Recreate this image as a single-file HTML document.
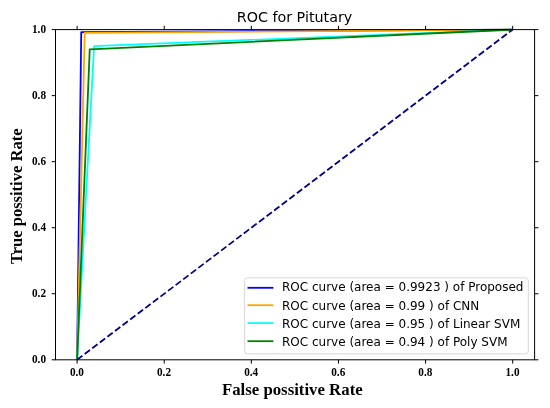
<!DOCTYPE html>
<html><head><meta charset="utf-8"><title>ROC for Pitutary</title>
<style>html,body{margin:0;padding:0;background:#fff;overflow:hidden}svg{display:block}.t{font-family:"Liberation Serif","DejaVu Serif",serif;font-weight:bold;font-size:12.7px;fill:#000}.al{font-family:"Liberation Serif","DejaVu Serif",serif;font-weight:bold;font-size:16.8px;fill:#000}.lg{font-family:"DejaVu Sans","Liberation Sans",sans-serif;font-size:12px;fill:#000}.ti{font-family:"DejaVu Sans","Liberation Sans",sans-serif;font-size:14.3px;fill:#000}</style></head><body>
<svg width="550" height="408" viewBox="0 0 550 408">
<rect x="0" y="0" width="550" height="408" fill="#ffffff"/>
<g fill="none" stroke-width="1.8" stroke-linejoin="round" stroke-linecap="butt">
<polyline stroke="#0000ff" points="77.10,359.80 81.24,32.14 512.70,29.60"/>
<polyline stroke="#ffa500" points="77.10,359.80 84.72,32.90 512.70,29.60"/>
<polyline stroke="#00ffff" points="77.10,359.80 94.09,46.11 512.70,29.60"/>
<polyline stroke="#008000" points="77.10,359.80 89.73,49.41 512.70,29.60"/>
<line stroke="#00008b" stroke-dasharray="6.64 2.87" stroke-linecap="butt" x1="77.10" y1="359.80" x2="512.70" y2="29.60"/>
</g>
<rect x="55.5" y="29.6" width="479.1" height="330.2" fill="none" stroke="#000" stroke-width="1"/>
<g stroke="#000" stroke-width="1">
<line x1="77.10" y1="359.8" x2="77.10" y2="363.6"/>
<line x1="77.10" y1="29.6" x2="77.10" y2="25.8"/>
<line x1="55.5" y1="359.80" x2="51.7" y2="359.80"/>
<line x1="534.6" y1="359.80" x2="538.4" y2="359.80"/>
<line x1="164.22" y1="359.8" x2="164.22" y2="363.6"/>
<line x1="164.22" y1="29.6" x2="164.22" y2="25.8"/>
<line x1="55.5" y1="293.76" x2="51.7" y2="293.76"/>
<line x1="534.6" y1="293.76" x2="538.4" y2="293.76"/>
<line x1="251.34" y1="359.8" x2="251.34" y2="363.6"/>
<line x1="251.34" y1="29.6" x2="251.34" y2="25.8"/>
<line x1="55.5" y1="227.72" x2="51.7" y2="227.72"/>
<line x1="534.6" y1="227.72" x2="538.4" y2="227.72"/>
<line x1="338.46" y1="359.8" x2="338.46" y2="363.6"/>
<line x1="338.46" y1="29.6" x2="338.46" y2="25.8"/>
<line x1="55.5" y1="161.68" x2="51.7" y2="161.68"/>
<line x1="534.6" y1="161.68" x2="538.4" y2="161.68"/>
<line x1="425.58" y1="359.8" x2="425.58" y2="363.6"/>
<line x1="425.58" y1="29.6" x2="425.58" y2="25.8"/>
<line x1="55.5" y1="95.64" x2="51.7" y2="95.64"/>
<line x1="534.6" y1="95.64" x2="538.4" y2="95.64"/>
<line x1="512.70" y1="359.8" x2="512.70" y2="363.6"/>
<line x1="512.70" y1="29.6" x2="512.70" y2="25.8"/>
<line x1="55.5" y1="29.60" x2="51.7" y2="29.60"/>
<line x1="534.6" y1="29.60" x2="538.4" y2="29.60"/>
</g>
<text class="t" text-anchor="middle" transform="translate(76.90,375.6) scale(0.885,1)">0.0</text>
<text class="t" text-anchor="end" transform="translate(46.0,363.45) scale(0.885,1)">0.0</text>
<text class="t" text-anchor="middle" transform="translate(164.02,375.6) scale(0.885,1)">0.2</text>
<text class="t" text-anchor="end" transform="translate(46.0,297.41) scale(0.885,1)">0.2</text>
<text class="t" text-anchor="middle" transform="translate(251.14,375.6) scale(0.885,1)">0.4</text>
<text class="t" text-anchor="end" transform="translate(46.0,231.37) scale(0.885,1)">0.4</text>
<text class="t" text-anchor="middle" transform="translate(338.26,375.6) scale(0.885,1)">0.6</text>
<text class="t" text-anchor="end" transform="translate(46.0,165.33) scale(0.885,1)">0.6</text>
<text class="t" text-anchor="middle" transform="translate(425.38,375.6) scale(0.885,1)">0.8</text>
<text class="t" text-anchor="end" transform="translate(46.0,99.29) scale(0.885,1)">0.8</text>
<text class="t" text-anchor="middle" transform="translate(512.50,375.6) scale(0.885,1)">1.0</text>
<text class="t" text-anchor="end" transform="translate(46.0,33.25) scale(0.885,1)">1.0</text>
<text class="al" text-anchor="middle" x="292.3" y="394.9">False possitive Rate</text>
<text class="al" text-anchor="middle" style="font-size:16.55px" transform="translate(22.1,196.3) rotate(-90) scale(1,0.95)">True possitive Rate</text>
<text class="ti" text-anchor="middle" x="294.5" y="21.7">ROC for Pitutary</text>
<rect x="244.6" y="277.9" width="283.7" height="75.9" rx="2.8" ry="2.8" fill="#ffffff" fill-opacity="0.8" stroke="#cccccc" stroke-opacity="0.8" stroke-width="1"/>
<line x1="247.5" y1="287.8" x2="273.4" y2="287.8" stroke="#0000ff" stroke-width="1.8"/>
<text class="lg" x="282.0" y="290.9">ROC curve (area = 0.9923 ) of Proposed</text>
<line x1="247.5" y1="305.2" x2="273.4" y2="305.2" stroke="#ffa500" stroke-width="1.8"/>
<text class="lg" x="282.0" y="309.8">ROC curve (area = 0.99 ) of CNN</text>
<line x1="247.5" y1="323.1" x2="273.4" y2="323.1" stroke="#00ffff" stroke-width="1.8"/>
<text class="lg" x="282.0" y="328.3">ROC curve (area = 0.95 ) of Linear SVM</text>
<line x1="247.5" y1="341.2" x2="273.4" y2="341.2" stroke="#008000" stroke-width="1.8"/>
<text class="lg" x="282.0" y="346.0">ROC curve (area = 0.94 ) of Poly SVM</text>
</svg></body></html>
